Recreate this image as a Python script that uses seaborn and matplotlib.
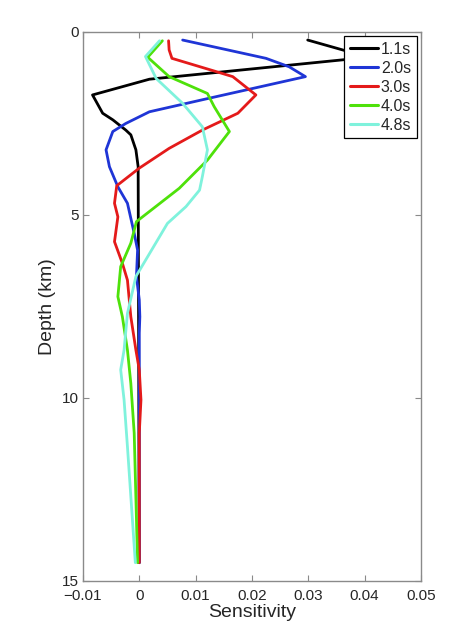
import numpy as np
import pandas as pd
import matplotlib
matplotlib.use("Agg")
import matplotlib.pyplot as plt
import seaborn as sns

periods = ["1.1s", "2.0s", "3.0s", "4.0s", "4.8s"]

depth_11 = [0.22, 0.69, 1.29, 1.72, 2.22, 2.40, 2.68, 2.81, 3.22, 3.68, 14.5]
sens_11 = [0.0299, 0.0407, 0.0018, -0.0083, -0.0065, -0.0047, -0.0024, -0.0015, -0.0006, -0.0002, 0.0]

depth_20 = [0.22, 0.72, 0.95, 1.22, 1.81, 2.18, 2.50, 2.72, 3.22, 3.68, 4.23, 4.68, 5.5, 5.96, 6.68, 7.32, 7.78, 8.23, 9.0, 14.5]
sens_20 = [0.0077, 0.0225, 0.0266, 0.0295, 0.0124, 0.0018, -0.0024, -0.0047, -0.0059, -0.0053, -0.0038, -0.0021, -0.0009, -0.0003, -0.0005, 0.0, 0.0001, 0.0, 0.0, 0.0]

depth_30 = [0.24, 0.49, 0.72, 1.08, 1.22, 1.72, 2.22, 2.68, 3.18, 3.72, 4.2, 4.68, 5.05, 5.73, 6.32, 6.78, 7.78, 8.69, 9.23, 10.05, 10.96, 14.5]
sens_30 = [0.0052, 0.0053, 0.0058, 0.0136, 0.0166, 0.0207, 0.0175, 0.0112, 0.0053, 0.0, -0.0040, -0.0044, -0.0038, -0.0044, -0.0030, -0.0021, -0.0015, -0.0006, 0.0, 0.0003, 0.0, 0.0]

depth_40 = [0.24, 0.69, 1.22, 1.68, 2.04, 2.72, 3.5, 4.27, 5.18, 5.77, 6.41, 7.23, 7.78, 8.69, 9.6, 10.96, 14.5]
sens_40 = [0.0041, 0.0015, 0.0053, 0.0121, 0.0133, 0.0160, 0.0121, 0.0071, -0.0005, -0.0015, -0.0033, -0.0038, -0.0030, -0.0021, -0.0015, -0.0009, -0.0003]

depth_48 = [0.24, 0.67, 1.27, 1.95, 2.59, 3.22, 3.95, 4.32, 4.77, 5.23, 6.68, 7.69, 8.69, 9.23, 10.05, 11.33, 14.5]
sens_48 = [0.0036, 0.0011, 0.0030, 0.0077, 0.0112, 0.0121, 0.0112, 0.0107, 0.0083, 0.0050, -0.0006, -0.0021, -0.0027, -0.0033, -0.0027, -0.0021, -0.0007]

x_ticks = [-0.01, 0, 0.01, 0.02, 0.03, 0.04, 0.05]
x_tick_labels = ["\u22120.01", "0", "0.01", "0.02", "0.03", "0.04", "0.05"]
y_ticks = [0, 5, 10, 15]

colors = ["#000000", "#1f35d6", "#e41a1a", "#4ee10a", "#7ff2dc"]

frames = []
for p, d, s in zip(periods,
                   [depth_11, depth_20, depth_30, depth_40, depth_48],
                   [sens_11, sens_20, sens_30, sens_40, sens_48]):
    frames.append(pd.DataFrame({"period": p, "depth": d, "sens": s}))
df = pd.concat(frames, ignore_index=True)

sns.set_style("white")
plt.rcParams["font.family"] = ["Liberation Sans", "DejaVu Sans"]

fig = plt.figure(figsize=(4.74, 6.36), dpi=100)
ax = fig.add_axes([0.175, 0.0865, 0.713, 0.8632])

sns.lineplot(data=df, x="sens", y="depth", hue="period", hue_order=periods,
             palette=colors, sort=False, estimator=None, linewidth=2.0, ax=ax)

ax.set_xlim(-0.01, 0.05)
ax.set_ylim(15, 0)
ax.set_xticks(x_ticks)
ax.set_xticklabels(x_tick_labels)
ax.set_yticks(y_ticks)
ax.set_xlabel("Sensitivity", fontsize=14, labelpad=1)
ax.set_ylabel("Depth (km)", fontsize=14, labelpad=4)

spine_col = "#8a8a8a"
for sp in ax.spines.values():
    sp.set_color(spine_col)
    sp.set_linewidth(1.0)
ax.tick_params(direction="in", length=4, width=0.8, color=spine_col,
               top=True, right=True, bottom=True, left=True,
               labelsize=11, pad=3)
ax.tick_params(axis="x", pad=5.5)

leg = ax.legend(loc="upper right", fontsize=11.5, frameon=True, fancybox=False,
                framealpha=1, edgecolor="black", handlelength=1.75,
                handletextpad=0.2, labelspacing=0.25, borderpad=0.35,
                borderaxespad=0.25, title=None)
leg.get_frame().set_linewidth(0.9)
for line in leg.get_lines():
    line.set_linewidth(2.2)

fig.savefig("out.png", dpi=100, facecolor="white")
